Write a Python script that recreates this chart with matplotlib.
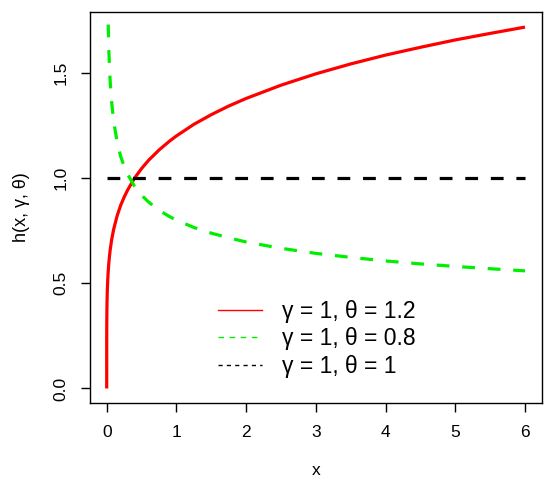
import matplotlib
matplotlib.use('Agg')
import matplotlib.pyplot as plt
from matplotlib.lines import Line2D

plt.rcParams['font.family'] = ['Liberation Sans', 'DejaVu Sans']

# values
x_vals = [0, 0.0002, 0.001, 0.002, 0.003, 0.005, 0.0075, 0.01, 0.015, 0.02, 0.03, 0.04,
          0.05, 0.07, 0.1, 0.15, 0.2, 0.25, 0.3, 0.4, 0.5, 0.6, 0.75, 0.9, 1, 1.25,
          1.5, 1.75, 2, 2.5, 3, 3.5, 4, 4.5, 5, 5.5, 6]
h_theta12 = [0, 0.218, 0.301, 0.346, 0.376, 0.416, 0.451, 0.478, 0.518, 0.549, 0.595, 0.630,
             0.659, 0.705, 0.757, 0.821, 0.870, 0.909, 0.943, 1.000, 1.045, 1.084, 1.133,
             1.175, 1.200, 1.255, 1.301, 1.342, 1.378, 1.441, 1.495, 1.542, 1.584, 1.621,
             1.656, 1.687, 1.717]
h_theta08 = [None, 4.40, 3.19, 2.773, 2.556, 2.305, 2.128, 2.010, 1.852, 1.751, 1.613, 1.524,
             1.457, 1.363, 1.268, 1.170, 1.103, 1.055, 1.018, 0.960, 0.918, 0.886, 0.847,
             0.817, 0.800, 0.765, 0.738, 0.716, 0.696, 0.666, 0.642, 0.623, 0.606, 0.592,
             0.580, 0.569, 0.559]
x_flat = [0, 6]
h_theta1 = [1, 1]

labels = ['\u03b3 = 1, \u03b8 = 1.2', '\u03b3 = 1, \u03b8 = 0.8', '\u03b3 = 1, \u03b8 = 1']
colours = ['#ff0000', '#00ee00', '#000000']

fig = plt.figure(figsize=(5.5, 4.93), dpi=100)
ax = fig.add_axes([0.1636, 0.1826, 0.8214, 0.7931])

gx = [x for x, y in zip(x_vals, h_theta08) if y is not None]
gy = [y for y in h_theta08 if y is not None]

ax.plot(x_vals, h_theta12, color=colours[0], lw=2.3, solid_capstyle='butt')
ax.plot(gx, gy, color=colours[1], lw=2.3, linestyle=(0, (4, 4)), dash_capstyle='butt')
ax.plot(x_flat, h_theta1, color=colours[2], lw=2.3, linestyle=(0, (4, 4)), dash_capstyle='butt')

ax.set_xlim(-0.24, 6.24)
ax.set_ylim(-0.0688, 1.7888)
ax.set_xticks([0, 1, 2, 3, 4, 5, 6])
ax.set_yticks([0, 0.5, 1.0, 1.5])
ax.set_yticklabels(['0.0', '0.5', '1.0', '1.5'], rotation=90, va='center')
ax.tick_params(labelsize=12.5, length=6.5, width=1, pad=9)
for s in ax.spines.values():
    s.set_linewidth(1)

ax.set_xlabel('x', fontsize=12.5, labelpad=17)
ax.set_ylabel('h(x, \u03b3, \u03b8)', fontsize=13, labelpad=17)

handles = [Line2D([], [], color=colours[0], lw=1),
           Line2D([], [], color=colours[1], lw=1, linestyle=(0, (4, 4))),
           Line2D([], [], color=colours[2], lw=1, linestyle=(0, (3, 3)))]
ax.legend(handles, labels, loc='center left', bbox_to_anchor=(0.3964, 0.3124),
          bbox_transform=fig.transFigure, frameon=False, fontsize=16.5,
          handlelength=1.9, handletextpad=0.9, labelspacing=0.2, borderpad=0,
          borderaxespad=0)

fig.savefig('out.png', dpi=100)
